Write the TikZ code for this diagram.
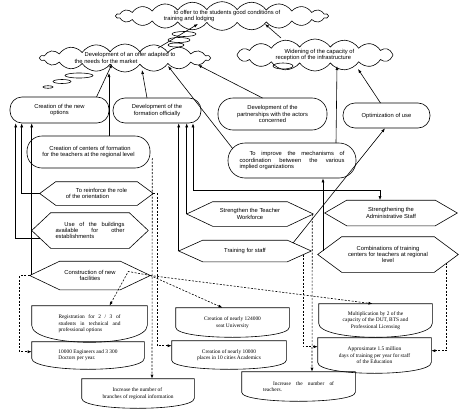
\documentclass[tikz,border=0pt]{standalone}
\usepackage{fontspec}
\setmainfont{Liberation Serif}
\newfontfamily\sansf{Liberation Sans}
\usetikzlibrary{shapes.symbols,shapes.misc,arrows.meta,calc}
\newcommand\hexdraw[2]{\draw (#1.west) -- ([xshift=#2pt]#1.north west) -- ([xshift=-#2pt]#1.north east) -- (#1.east) -- ([xshift=-#2pt]#1.south east) -- ([xshift=#2pt]#1.south west) -- cycle;}
\newcommand\bowldraw[2]{\draw (#1.north west) -- (#1.north east) -- ([yshift=#2pt]#1.south east) .. controls +(0,{4*#2/3}) and +(0,{4*#2/3}) .. ([yshift=#2pt]#1.south west) -- cycle;}
\begin{document}
\begin{tikzpicture}[x=1pt,y=-1pt,line width=0.6pt,
  sf/.style={font=\sansf\fontsize{5.8}{6.4}\selectfont},
  rm/.style={font=\fontsize{5.4}{6.4}\selectfont},
  cl/.style={sf,draw,cloud,cloud puffs=#1,cloud puff arc=110,cloud ignores aspect,inner sep=0pt,align=left},
  rbox/.style={sf,draw,rectangle,rounded corners=#1,inner sep=0pt,align=center},
  hexn/.style={sf,rectangle,inner sep=0pt,align=center},
  bowl/.style={rm,rectangle,inner sep=0pt,align=center},
  arr/.style={-{Latex[length=4pt,width=3pt]}},
  darr/.style={arr,dash pattern=on 2pt off 1.5pt},
  dbl/.style={{Latex[length=4pt,width=3pt]}-{Latex[length=4pt,width=3pt]}}]
\useasboundingbox (0,0) rectangle (474,415);
% clouds
\node[cl=22,minimum width=212pt,minimum height=28pt] (c1) at (222,16) {\hspace*{10pt}to offer to the students good conditions of\\training and lodging};
\node[cl=18,minimum width=170pt,minimum height=28pt] (c2) at (125,58) {\hspace*{10pt}Development of an offer adapted to\\the needs for the market};
\node[cl=16,minimum width=156pt,minimum height=32pt] (c3) at (315,55) {\hspace*{9pt}Widening of the capacity of\\reception of the infrastructure};
\draw (184,34) ellipse [x radius=12pt, y radius=2.5pt];
\draw (179,40) ellipse [x radius=11pt, y radius=2.5pt];
\draw (176,45) ellipse [x radius=8pt, y radius=2pt];
\draw (79,75.5) ellipse [x radius=14pt, y radius=2.5pt];
\draw (62,81.5) ellipse [x radius=9pt, y radius=2pt];
\draw (48,87) ellipse [x radius=5pt, y radius=1.3pt];
\draw (283,66) ellipse [x radius=10pt, y radius=3pt];
% rounded boxes
\node[rbox=12pt,minimum width=99pt,minimum height=26pt] (a) at (59.5,110) {Creation of the new\\options};
\node[rbox=12pt,minimum width=88pt,minimum height=25pt] (b) at (157,110.5) {Development of the\\formation officially};
\node[rbox=15pt,minimum width=109pt,minimum height=32pt] (cc) at (272.5,114) {Development of the\\partnerships with the actors\\concerned};
\node[rbox=12pt,minimum width=87pt,minimum height=25pt] (d) at (386.5,115.5) {Optimization of use};
\node[rbox=15pt,minimum width=123pt,minimum height=32pt,align=left] (e) at (88.5,152) {\hspace*{7pt}Creation of centers of formation\\for the teachers at the regional level};
\node[rbox=17pt,minimum width=128pt,minimum height=35pt,text width=105pt,align=justify] (f) at (292,160.5) {\hspace*{10pt}To improve the mechanisms of\linebreak coordination between the various\linebreak implied organizations};
% hexagons
\node[hexn,minimum width=113pt,minimum height=23pt,align=left] (h1) at (96.5,193.5) {\hspace*{10pt}To reinforce the role\\of the orientation};
\hexdraw{h1}{16}
\node[hexn,minimum width=116pt,minimum height=35pt,text width=69pt,align=justify] (h2) at (90,230.5) {\hspace*{9pt}Use of the buildings\linebreak available for other\linebreak establishments};
\hexdraw{h2}{19}
\node[hexn,minimum width=120pt,minimum height=28pt] (h3) at (90,275.5) {Construction of new\\facilities};
\hexdraw{h3}{30}
\node[hexn,minimum width=126pt,minimum height=24pt] (h4) at (250,214) {Strengthen the Teacher\\Workforce};
\hexdraw{h4}{26}
\node[hexn,minimum width=132pt,minimum height=21pt] (h5) at (245,251) {Training for staff};
\hexdraw{h5}{24}
\node[hexn,minimum width=132pt,minimum height=25pt] (h6) at (391,213) {Strengthening the\\Administrative Staff};
\hexdraw{h6}{22}
\node[hexn,minimum width=140pt,minimum height=35pt] (h7) at (388,254.5) {Combinations of training\\centers for teachers at regional\\level};
\hexdraw{h7}{24}
% bowls
\node[bowl,minimum width=115pt,minimum height=36pt,text width=62pt,align=justify] (r1) at (89.5,324) {Registration for 2 / 3 of\linebreak students in technical and\linebreak professional options};
\bowldraw{r1}{17}
\node[bowl,minimum width=112pt,minimum height=27pt,align=left] (r2) at (88,355.5) {10000 Engineers and 3 300\\Doctors per year.};
\bowldraw{r2}{11}
\node[bowl,minimum width=112pt,minimum height=29pt,align=left] (r3) at (138,393.5) {\hspace*{10pt}Increase the number of\\branches of regional information};
\bowldraw{r3}{10}
\node[bowl,minimum width=113pt,minimum height=29pt] (r4) at (232.5,322.5) {Creation of nearly 124000\\seat University};
\bowldraw{r4}{10}
\node[bowl,minimum width=114pt,minimum height=28pt] (r5) at (229,355) {Creation of nearly 10000\\places in 10 cities Academics};
\bowldraw{r5}{9}
\node[bowl,minimum width=113pt,minimum height=33pt] (r6) at (375.5,320.5) {Multiplication by 2 of the\\capacity of the DUT, BTS and\\Professional Licensing};
\bowldraw{r6}{14}
\node[bowl,minimum width=113pt,minimum height=35pt] (r7) at (374.5,355.5) {Approximate 1.5 million\\days of training per year for staff\\of the Education};
\bowldraw{r7}{11}
\node[bowl,minimum width=113pt,minimum height=29pt,text width=71pt,align=justify] (r8) at (298.5,386.5) {\hspace*{10pt}Increase the number of\linebreak teachers.};
\bowldraw{r8}{9}
% solid connectors
\draw[arr] ($(c2.center)+(33,-10)$) -- ($(c1.center)+(-24,8)$);
\draw[arr] ($(c3.center)+(-34,-17)$) -- ($(c1.center)+(43,8)$);
\draw[arr] ($(a.center)+(37,-13)$) -- ($(c2.center)+(-13,6)$);
\draw[arr] ($(e.north)+(20.5,0)$) -- ($(c2.center)+(-16,15)$);
\draw[arr] ($(b.center)+(-10,-12.5)$) -- ($(c2.center)+(17,12)$);
\draw[arr] ($(cc.center)+(-10,-16)$) -- ($(c2.center)+(73,7)$);
\draw[arr] ($(f.center)+(-59,-11.5)$) -- ($(c2.center)+(43,8)$);
\draw[arr] ($(f.center)+(44,-17.5)$) -- ($(c3.center)+(22,11)$);
\draw[arr] ($(d.center)+(-6,-12.5)$) -- ($(c3.center)+(43,14)$);
\draw[arr] (h1.west) -| ($(a.south west)+(12,0)$);
\draw[arr] ($(h2.west)+(8,7.5)$) -| ($(a.south west)+(6,0)$);
\draw[arr] ($(h3.west)+(2,-1)$) -- ($(a.south west)+(22,0)$);
\draw[arr] (h5.west) -- (h5.west |- b.south);
\draw[arr] (h4.west) -- (h4.west |- b.south);
\draw[dbl] ($(b.south)+(36,0)$) |- ($(h6.north)+(-11,-10)$) -- ($(h6.north)+(-11,0)$);
\draw[arr] ($(h7.center)+(-65,-4)$) -- ($(f.south)+(31,0)$);
\draw[arr] ($(h5.center)+(48,-8)$) -- ($(d.south)+(-1.5,0)$);
% dashed connectors
\draw[darr] ($(e.east)+(2,6)$) -- ($(r3.north)+(14,0)$);
\draw[darr] (h1.east) -- ++(4,0) |- ($(r5.north west)+(0,5)$);
\draw[darr] (h3.east) -- ($(r4.north)+(-10,0)$);
\draw[darr] (h3.east) -- ($(r6.north)+(-3,0)$);
\draw[darr] (h3.east) -- ($(h3.east)+(-22,-4)$) -- ($(r1.north)+(20,0)$);
\draw[darr] (h3.west) -- ++(-10,0) |- ($(r2.north west)+(0,10)$);
\draw[darr] ($(h4.east)+(-1,0)$) -- ($(r8.north)+(13.5,0)$);
\draw[darr] ($(h5.east)+(-8,3.5)$) |- ($(r7.north west)+(0,9)$);
\draw[darr] ($(h7.east)+(-12,8)$) |- ($(r7.north east)+(0,13)$);
\end{tikzpicture}
\end{document}
